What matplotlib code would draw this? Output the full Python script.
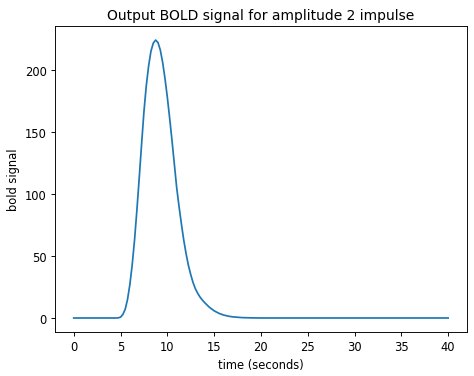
#!/usr/bin/env python3

import matplotlib
matplotlib.use("Agg")
import matplotlib.pyplot as plt

# time points (seconds) and bold signal
time = [0, 1, 2, 3, 4, 4.5, 4.75, 5.0, 5.25, 5.5, 5.75, 6.0, 6.25, 6.5, 6.75,
        7.0, 7.25, 7.5, 7.75, 8.0, 8.25, 8.5, 8.75, 9.0, 9.25, 9.5, 9.75,
        10.0, 10.25, 10.5, 10.75, 11.0, 11.25, 11.5, 11.75, 12.0, 12.25, 12.5,
        12.75, 13.0, 13.25, 13.5, 13.75, 14.0, 14.5, 15.0, 15.5, 16.0, 16.5,
        17.0, 18.0, 19.0, 20.0, 25.0, 30.0, 35.0, 40.0]
bold = [0, 0, 0, 0, 0, 0, 0.1, 0.7, 2.8, 7, 15, 27, 43, 63, 87,
        113, 140, 166, 187, 203, 215, 221.5, 224, 222, 216, 206, 193,
        178, 161, 143, 124, 105, 90, 76, 63, 52, 42.5, 35,
        28.5, 23.5, 19.8, 16.8, 14.4, 12.3, 8.6, 5.8, 3.8, 2.4, 1.5,
        0.9, 0.3, 0.1, 0, 0, 0, 0, 0]

# reference looks like a default figure scaled down, so render at lower dpi
dpi = 83
fig = plt.figure(figsize=(474 / dpi, 377 / dpi), dpi=dpi)
ax = fig.add_axes([0.116, 0.117, 0.869, 0.811])
ax.plot(time, bold, color="#1f77b4")
ax.set_xticks(range(0, 41, 5))
ax.set_xlabel("time (seconds)")
ax.set_ylabel("bold signal")
ax.set_title("Output BOLD signal for amplitude 2 impulse")

fig.savefig("out.png", dpi=dpi)
